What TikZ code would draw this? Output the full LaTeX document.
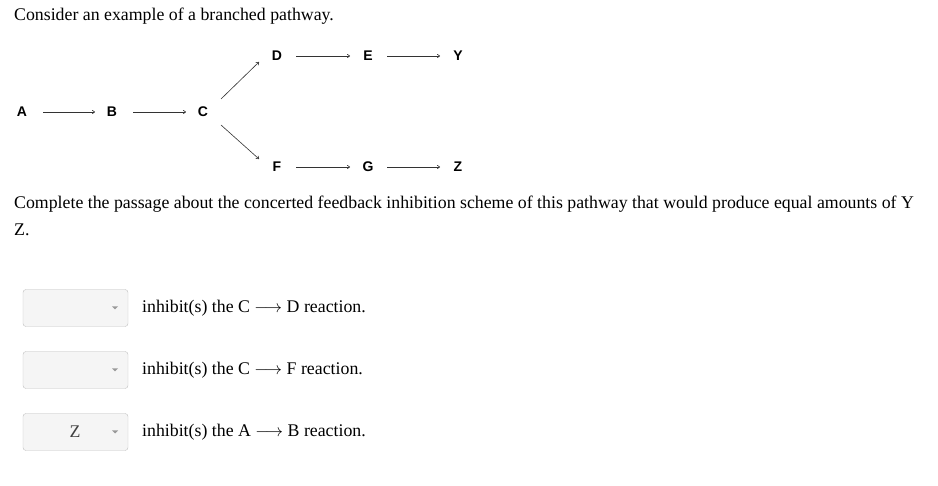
\documentclass[tikz,border=0pt]{standalone}
\usetikzlibrary{arrows.meta}
\usepackage{fontspec}
\setmainfont{Liberation Serif}
\newfontfamily\lsans{Liberation Sans}
\begin{document}
\begin{tikzpicture}[x=1pt,y=-1pt,
  lab/.style={font=\lsans\bfseries\fontsize{14}{16}\selectfont,inner sep=1pt},
  txt/.style={font=\fontsize{17.8}{21}\selectfont,anchor=west,inner sep=0pt},
  rx/.style={-{To[length=3pt,width=4pt]},line width=0.6pt,draw=black!80},
  ddbox/.style={draw=black!25,fill=black!4,rounded corners=3pt,minimum width=105pt,minimum height=37pt,inner sep=0pt}]
\useasboundingbox (0,0) rectangle (938,486);
\node[txt] (t1) at (14,16) {Consider an example of a branched pathway.};
\node[lab] (A) at (22,112) {A};
\node[lab] (B) at (112,112) {B};
\node[lab] (C) at (203,112) {C};
\node[lab] (D) at (277,56) {D};
\node[lab] (E) at (368,56) {E};
\node[lab] (Y) at (458,56) {Y};
\node[lab] (F) at (277,167) {F};
\node[lab] (G) at (368,167) {G};
\node[lab] (Z) at (458,167) {Z};
\draw[rx] ([xshift=21pt]A.center) -- ([xshift=-17pt]B.center);
\draw[rx] ([xshift=21pt]B.center) -- ([xshift=-17pt]C.center);
\draw[rx] ([xshift=19pt]D.center) -- ([xshift=-18pt]E.center);
\draw[rx] ([xshift=19pt]E.center) -- ([xshift=-18pt]Y.center);
\draw[rx] ([xshift=19pt]F.center) -- ([xshift=-18pt]G.center);
\draw[rx] ([xshift=19pt]G.center) -- ([xshift=-18pt]Z.center);
\draw[rx] ([shift={(18pt,13pt)}]C.center) -- ([shift={(-18pt,-6pt)}]D.center);
\draw[rx] ([shift={(18pt,-13pt)}]C.center) -- ([shift={(-18pt,8pt)}]F.center);
\node[txt] (t2) at (14,204) {Complete the passage about the concerted feedback inhibition scheme of this pathway that would produce equal amounts of Y};
\node[txt] (t3) at (14,230) {Z.};
\foreach \i/\y/\v/\r in {1/308//C \(\longrightarrow\) D, 2/370//C \(\longrightarrow\) F, 3/432/Z/A \(\longrightarrow\) B}{
  \node[ddbox] (d\i) at (75.5,\y) {};
  \node[font=\fontsize{17.8}{21}\selectfont,text=black!75] (v\i) at (75,\y) {\v};
  \fill[black!40] (112,\y-1.5) -- (118,\y-1.5) -- (115,\y+1.5) -- cycle;
  \node[txt] (r\i) at (142,\y) {inhibit(s) the \r{} reaction.};
}
\end{tikzpicture}
\end{document}
